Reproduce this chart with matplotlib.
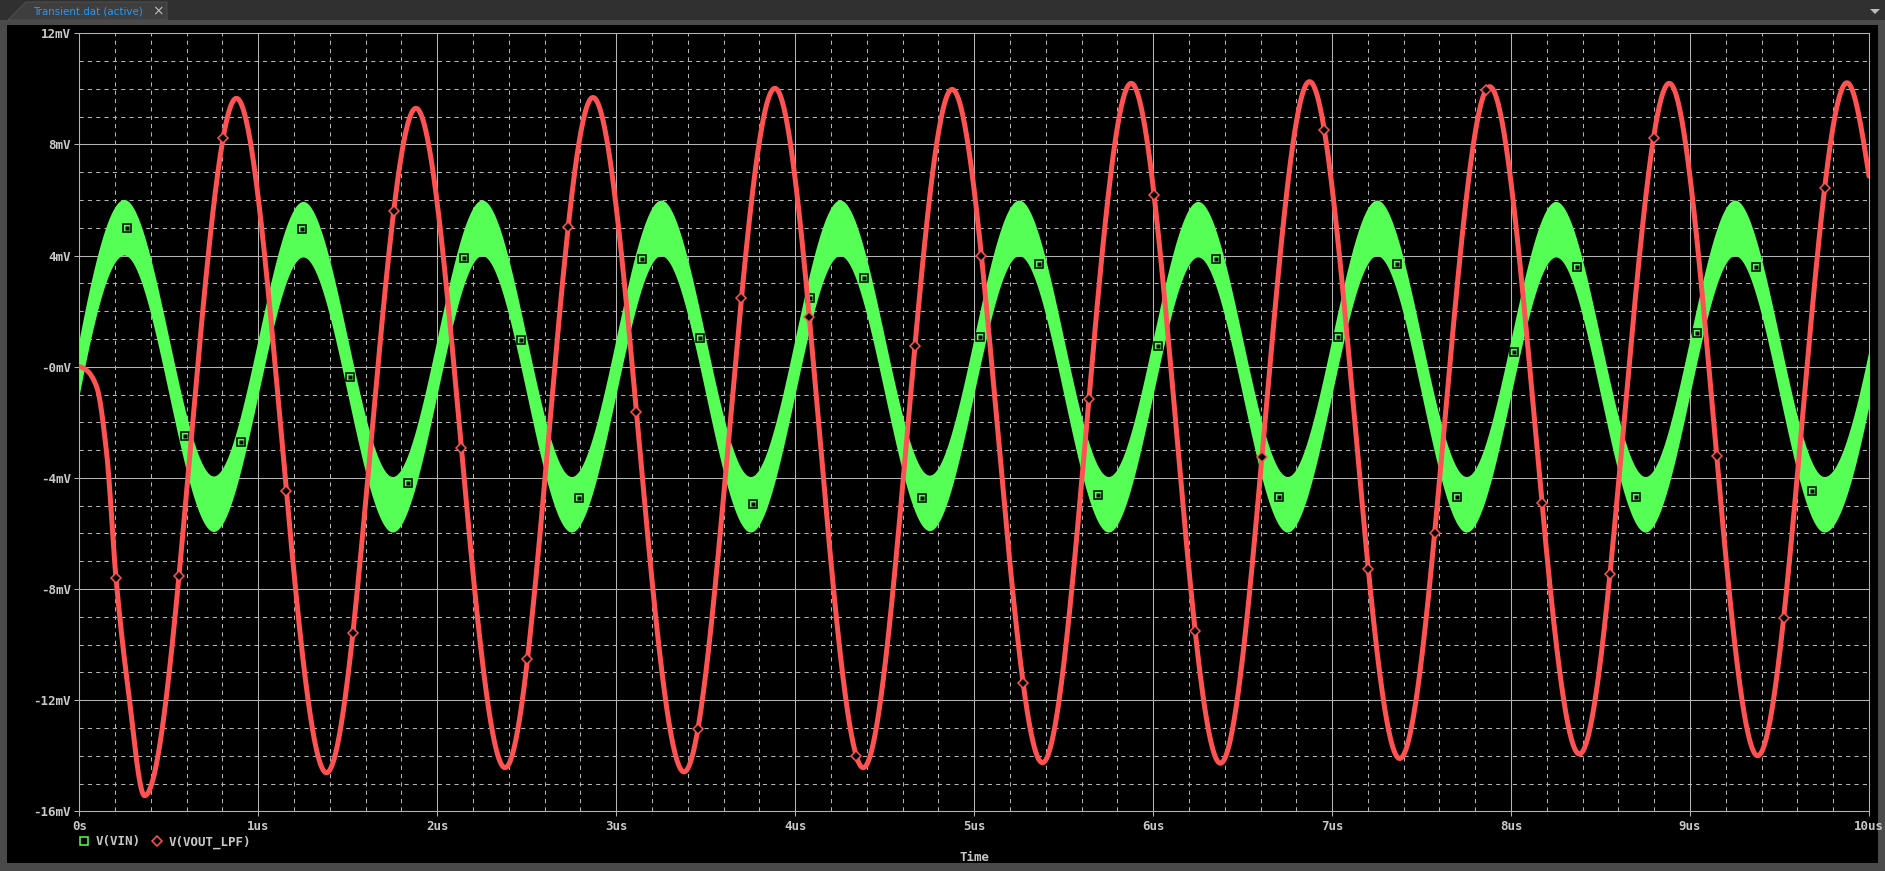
import numpy as np
import matplotlib
matplotlib.use('Agg')
import matplotlib.pyplot as plt
from matplotlib.lines import Line2D
from matplotlib.patches import Rectangle, Polygon
from matplotlib.ticker import FixedLocator, MultipleLocator

# ---------------- data ----------------
x_ticks = [0, 1, 2, 3, 4, 5, 6, 7, 8, 9, 10]
x_tick_labels = ['0s', '1us', '2us', '3us', '4us', '5us', '6us', '7us', '8us', '9us', '10us']
y_ticks = [12, 8, 4, 0, -4, -8, -12, -16]
y_tick_labels = ['12mV', '8mV', '4mV', '-0mV', '-4mV', '-8mV', '-12mV', '-16mV']
series_names = ['V(VIN)', 'V(VOUT_LPF)']
x_label = 'Time'
tab_title = 'Transient.dat (active)'

# V(VIN): centre of the noisy band at its turning points (us, mV)
vin_t = [0.0, 0.25, 0.75, 1.25, 1.75, 2.25, 2.75, 3.25, 3.75, 4.25, 4.75,
         5.25, 5.75, 6.25, 6.75, 7.25, 7.75, 8.25, 8.75, 9.25, 9.75, 10.0]
vin_v = [0.0, 5.02, -4.93, 4.95, -4.95, 5.0, -4.95, 5.0, -4.95, 5.0, -4.9,
         5.0, -4.95, 4.95, -4.95, 5.0, -4.95, 4.95, -4.95, 5.0, -4.95, -0.4]
vin_ripple = 1.0   # half height of the high-frequency band, mV
vin_marker_t = [0.269, 0.589, 0.903, 1.244, 1.513, 1.834, 2.148, 2.469, 2.793,
                3.145, 3.466, 3.764, 4.085, 4.387, 4.711, 5.035, 5.363, 5.694,
                6.025, 6.353, 6.701, 7.035, 7.363, 7.70, 8.018, 8.366, 8.70,
                9.04, 9.369, 9.684]

# V(VOUT_LPF): points and turning points (us, mV)
vout_t = [0.0, 0.041, 0.097, 0.153, 0.205, 0.27, 0.365, 0.878, 1.381, 1.881,
          2.379, 2.87, 3.379, 3.887, 4.38, 4.877, 5.382, 5.877, 6.376, 6.874,
          7.378, 7.88, 8.382, 8.884, 9.378, 9.877, 10.0]
vout_v = [0.0, -0.13, -0.72, -3.12, -7.6, -11.45, -15.44, 9.66, -14.61, 9.30,
          -14.43, 9.69, -14.58, 10.02, -14.43, 9.98, -14.25, 10.2, -14.27, 10.26,
          -14.1, 10.08, -13.94, 10.2, -14.0, 10.22, 6.86]
vout_marker_t = [0.205, 0.557, 0.804, 1.157, 1.529, 1.757, 2.135, 2.504, 2.732,
                 3.113, 3.456, 3.70, 4.079, 4.342, 4.669, 5.041, 5.274, 5.641,
                 6.005, 6.235, 6.608, 6.956, 7.202, 7.573, 7.858, 8.173, 8.553,
                 8.796, 9.149, 9.523, 9.752]

# ---------------- helpers ----------------
def pchip(x, y, xq):
    x = np.asarray(x, float); y = np.asarray(y, float); xq = np.asarray(xq, float)
    h = np.diff(x); d = np.diff(y) / h
    n = len(x)
    m = np.zeros(n)
    for k in range(1, n - 1):
        if d[k - 1] * d[k] > 0:
            w1 = 2 * h[k] + h[k - 1]; w2 = h[k] + 2 * h[k - 1]
            m[k] = (w1 + w2) / (w1 / d[k - 1] + w2 / d[k])

    def end(h0, h1, d0, d1):
        s = ((2 * h0 + h1) * d0 - h0 * d1) / (h0 + h1)
        if np.sign(s) != np.sign(d0):
            s = 0.0
        elif np.sign(d0) != np.sign(d1) and abs(s) > abs(3 * d0):
            s = 3 * d0
        return s
    m[0] = end(h[0], h[1], d[0], d[1])
    m[-1] = end(h[-1], h[-2], d[-1], d[-2])
    i = np.clip(np.searchsorted(x, xq) - 1, 0, n - 2)
    t = (xq - x[i]) / h[i]
    h00 = 2 * t**3 - 3 * t**2 + 1
    h10 = t**3 - 2 * t**2 + t
    h01 = -2 * t**3 + 3 * t**2
    h11 = t**3 - t**2
    return h00 * y[i] + h10 * h[i] * m[i] + h01 * y[i + 1] + h11 * h[i] * m[i + 1]

W, H, DPI = 1885, 871, 100
def fx(px): return px / W
def fy(py): return 1 - py / H

GREEN = '#55ff55'
RED = '#ff5252'
GRID = '#b4b4b4'
TXT = '#c8c8c8'
MONO = 'DejaVu Sans Mono'

fig = plt.figure(figsize=(W / DPI, H / DPI), dpi=DPI)
fig.patch.set_facecolor('#4a4a4a')

# window chrome
fig.add_artist(Rectangle((0, fy(20)), 1, 20 / H, transform=fig.transFigure,
                         facecolor='#303030', edgecolor='none', zorder=0))
fig.add_artist(Polygon([(fx(8), fy(20)), (fx(26), fy(2)), (fx(167), fy(2)), (fx(167), fy(20))],
                       closed=True, transform=fig.transFigure,
                       facecolor='#3e3e3e', edgecolor='#505050', lw=0.7, zorder=1))
fig.text(fx(33), fy(11), tab_title, color='#1e9bff', fontsize=7.4,
         family='DejaVu Sans', ha='left', va='center')
fig.text(fx(158), fy(11), '\u00d7', color='#bdbdbd', fontsize=10,
         family='DejaVu Sans', ha='center', va='center')
fig.add_artist(Polygon([(fx(1870), fy(9)), (fx(1880), fy(9)), (fx(1875), fy(14))],
                       closed=True, transform=fig.transFigure,
                       facecolor='#bdbdbd', edgecolor='none', zorder=1))
fig.add_artist(Rectangle((fx(7), fy(863)), (1878 - 7) / W, (863 - 25) / H,
                         transform=fig.transFigure, facecolor='black',
                         edgecolor='none', zorder=0))

# axes
L, R, T, B = 79.3, 1869.0, 33.3, 811.3
ax = fig.add_axes([fx(L), fy(B), (R - L) / W, (B - T) / H])
ax.set_facecolor('black')
ax.set_xlim(0, 10)
ax.set_ylim(-16, 12)

ax.xaxis.set_major_locator(FixedLocator(x_ticks))
ax.set_xticklabels(x_tick_labels)
ax.yaxis.set_major_locator(FixedLocator(y_ticks))
ax.set_yticklabels(y_tick_labels)
ax.xaxis.set_minor_locator(MultipleLocator(0.2))
ax.yaxis.set_minor_locator(MultipleLocator(1))

ax.grid(which='major', color=GRID, lw=0.75, ls='-', zorder=0)
ax.grid(which='minor', color=GRID, lw=0.75, ls=(0, (4, 4)), zorder=0)
ax.set_axisbelow(True)
ax.tick_params(which='major', direction='out', length=3.6, width=0.75,
               color=GRID, labelcolor=TXT, labelsize=9, pad=2.5)
ax.tick_params(which='minor', length=0)
for lab in ax.get_xticklabels() + ax.get_yticklabels():
    lab.set_family(MONO); lab.set_weight('bold')
for s in ax.spines.values():
    s.set_color(GRID); s.set_linewidth(0.75)

# traces
t = np.linspace(0, 10, 4001)
vin_c = pchip(vin_t, vin_v, t)
ax.fill_between(t, vin_c - vin_ripple, vin_c + vin_ripple, color=GREEN, lw=0, zorder=2)
mt = np.asarray(vin_marker_t)
ax.plot(mt, pchip(vin_t, vin_v, mt), ls='none', marker='s', ms=6, mfc='none',
        mec='black', mew=1.1, zorder=3)
ax.plot(mt, pchip(vin_t, vin_v, mt), ls='none', marker='s', ms=2.4, mfc='black',
        mec='none', zorder=3)

vout = pchip(vout_t, vout_v, t)
ax.plot(t, vout, color=RED, lw=3.6, solid_capstyle='round', zorder=4)
rt = np.asarray(vout_marker_t)
ax.plot(rt, pchip(vout_t, vout_v, rt), ls='none', marker='D', ms=5.2, mfc='black',
        mec=RED, mew=1.1, zorder=5)

# x label
ax.set_xlabel(x_label, color=TXT, fontsize=9, family=MONO, weight='bold')
ax.xaxis.set_label_coords(0.5, (B - 857) / (B - T))
ax.xaxis.label.set_va('center')

# legend
handles = [Line2D([], [], ls='none', marker='s', ms=6, mfc='black', mec=GREEN, mew=1.1),
           Line2D([], [], ls='none', marker='D', ms=5.2, mfc='black', mec=RED, mew=1.1)]
leg = fig.legend(handles, series_names, loc='center left',
                 bbox_to_anchor=(fx(79), fy(842)), bbox_transform=fig.transFigure,
                 ncol=2, frameon=False, handlelength=0.8, handletextpad=0.5,
                 columnspacing=0.95, borderpad=0, borderaxespad=0,
                 prop={'family': MONO, 'weight': 'bold', 'size': 9})
for tx in leg.get_texts():
    tx.set_color(TXT)

fig.savefig('out.png', dpi=DPI, facecolor=fig.get_facecolor())
